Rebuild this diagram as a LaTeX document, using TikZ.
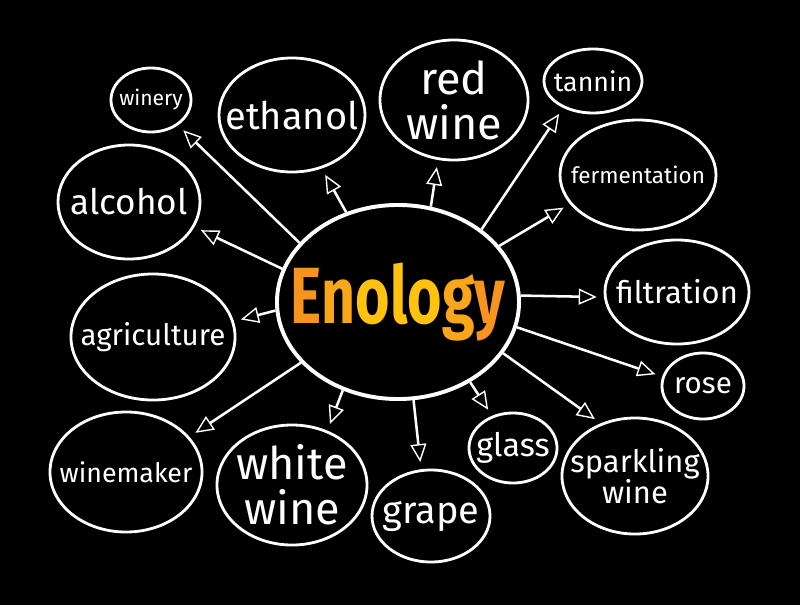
\documentclass[tikz,border=0pt]{standalone}
\usepackage{fontspec}
\setmainfont{Fira Sans}
\usetikzlibrary{shapes.geometric,arrows.meta}

\definecolor{enoA}{HTML}{F7941D}
\definecolor{enoB}{HTML}{FAA61A}
\definecolor{enoC}{HTML}{FFC20E}

\newcommand{\fz}[1]{\fontsize{#1}{#1}\selectfont}

\tikzset{
    bub/.style={draw=white, ellipse, line width=2pt, inner sep=0pt},
    word/.style={text=white, align=center, inner sep=0pt},
    link/.style={draw=white, line width=1.8pt, shorten >=0.18cm,
        -{Triangle[open,length=0.45cm,width=0.4cm,line width=1pt]}}
}

\begin{document}
\begin{tikzpicture}[x=0.025cm,y=-0.025cm]
            % Background
            \fill[black] (0,0) rectangle (800,605);

            % Centre
            \node[bub, line width=2.8pt, minimum width=6.05cm, minimum height=4.85cm,
                label={[word, font=\fz{42}\bfseries]center:\scalebox{1}[1.35]{\textcolor{enoA}{E}\textcolor{enoB}{n}\textcolor{enoC}{olo}\textcolor{enoB}{g}\textcolor{enoA}{y}}}]
                (eno) at (398,302) {};

            % Bubbles
            \foreach \n/\x/\y/\w/\h/\s/\t in {winery/151/100/2.0/1.6/15/winery,
                    ethanol/292/115/3.65/2.85/27/ethanol,
                    redwine/454/100/3.7/3.0/32/{red\\wine},
                    tannin/593/81/2.45/1.6/19/tannin,
                    fermentation/638/175/3.9/2.75/16/fermentation,
                    filtration/677/292/3.6/2.6/22/filtration,
                    rose/703/386/2.05/1.65/21/rose,
                    sparkling/635/476/3.65/2.9/22/{sparkling\\wine},
                    glass/513/448/2.2/1.75/23/glass,
                    grape/431/516/2.95/2.3/27/grape,
                    whitewine/292/485/3.75/3.0/32/{white\\wine},
                    winemaker/126/472/3.8/3.0/19/winemaker,
                    agriculture/153/337/4.1/3.15/21/agriculture,
                    alcohol/129/202/3.55/2.85/25/alcohol} {
                    \node[bub, minimum width=\w cm, minimum height=\h cm,
                        label={[word, font=\fz{\s}]center:\t}] (\n) at (\x,\y) {};
                }

            % Links
            \foreach \a/\n/\b in {149/winery/-43, 164/alcohol/-21, 120/ethanol/-61, 71/redwine/-105,
                    41/tannin/-138, 29/fermentation/-157, 3/filtration/-176, -12/rose/167,
                    -26/sparkling/123, -48/glass/123, -81/grape/102, -122/whitewine/57,
                    -148/winemaker/29, -176/agriculture/11} {
                    \draw[link] (eno.\a) -- (\n.\b);
                }
\end{tikzpicture}
\end{document}
